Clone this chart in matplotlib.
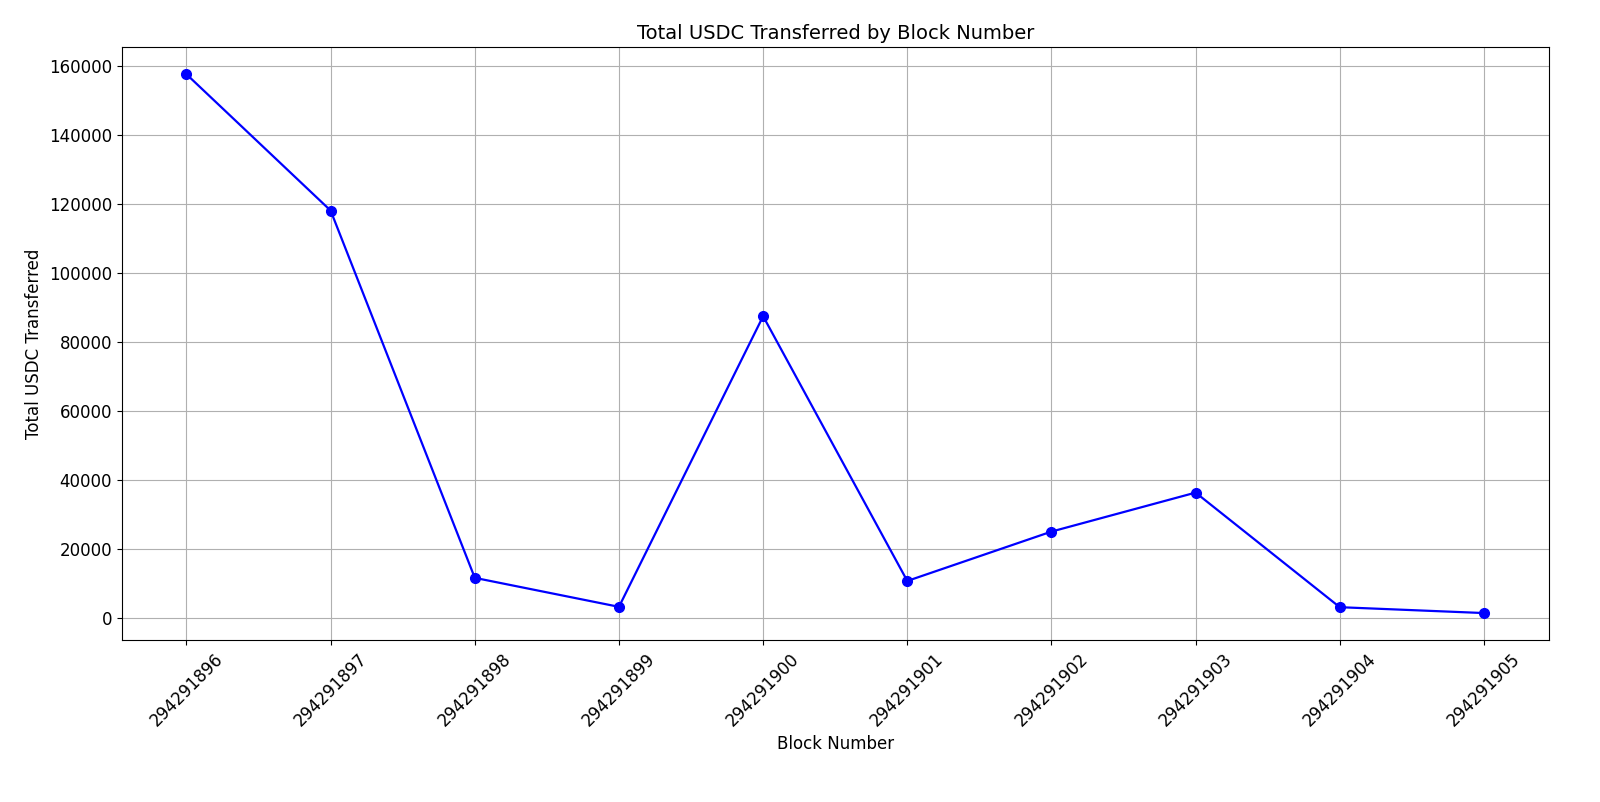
import matplotlib
matplotlib.use("Agg")
import matplotlib.pyplot as plt

blocks = ["294291896", "294291897", "294291898", "294291899", "294291900",
          "294291901", "294291902", "294291903", "294291904", "294291905"]
totals = [157500, 118000, 11600, 3200, 87400, 10700, 25000, 36300, 3100, 1400]

fig, ax = plt.subplots(figsize=(16, 8.02), dpi=100)
ax.plot(blocks, totals, marker="o", color="blue", markersize=7, linewidth=1.6)
ax.set_title("Total USDC Transferred by Block Number", fontsize=14)
ax.set_xlabel("Block Number", fontsize=12)
ax.set_ylabel("Total USDC Transferred", fontsize=12)
ax.tick_params(axis="x", rotation=45, labelsize=12)
ax.tick_params(axis="y", labelsize=12)
ax.grid(True)
plt.subplots_adjust(left=0.076, right=0.968, top=0.941, bottom=0.202)
plt.savefig("out.png", dpi=100)
